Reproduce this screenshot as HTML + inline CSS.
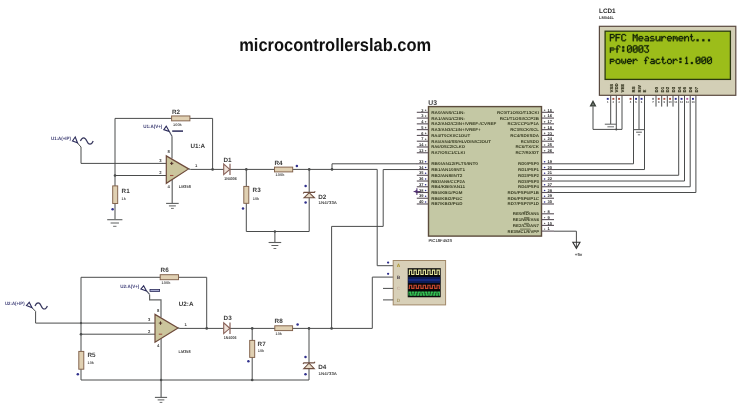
<!DOCTYPE html>
<html><head><meta charset="utf-8"><title>Power factor measurement circuit</title>
<style>
html,body{margin:0;padding:0;background:#fff;}
body{width:750px;height:404px;overflow:hidden;font-family:"Liberation Sans",sans-serif;}
svg{display:block;position:absolute;left:0;top:0;}
svg text{white-space:pre;}
</style></head><body>
<svg width="750" height="404" viewBox="0 0 750 404" shape-rendering="geometricPrecision" text-rendering="geometricPrecision">
<rect x="0" y="0" width="750" height="404" fill="#ffffff"/>
<g id="all" style="filter:blur(0.3px)">
<text id="title" x="239.2" y="50.5" font-size="18.0" font-weight="bold" fill="#111" font-family="Liberation Sans, sans-serif" textLength="192.0" lengthAdjust="spacingAndGlyphs">microcontrollerslab.com</text>
<polyline points="115.0,219 115.0,118.4 212.6,118.4 212.6,169.4" stroke="#4a4c4c" stroke-width="1.0" fill="none" stroke-linejoin="miter" />
<polyline points="77.0,142.5 81.0,147.0 81.0,163.4 166.2,163.4" stroke="#4a4c4c" stroke-width="1.0" fill="none" stroke-linejoin="miter" />
<line x1="115.0" y1="175.5" x2="166.2" y2="175.5" stroke="#4a4c4c" stroke-width="1.0" />
<circle cx="115.0" cy="175.5" r="1.3" fill="#4a4c4c"/>
<rect x="112.7" y="185.9" width="5.0" height="17.599999999999994" fill="#e0d0b2" stroke="#80604a" stroke-width="0.95" />
<line x1="107.2" y1="219.7" x2="122.39999999999999" y2="219.7" stroke="#5c5e5e" stroke-width="1.1" />
<line x1="110.62" y1="223.0" x2="118.97999999999999" y2="223.0" stroke="#5c5e5e" stroke-width="1.0" />
<line x1="113.128" y1="226.29999999999998" x2="116.472" y2="226.29999999999998" stroke="#5c5e5e" stroke-width="0.9" />
<text x="121.6" y="192.6" font-size="6.3" fill="#3a3a3a" text-anchor="start" font-weight="bold" font-family="Liberation Sans, sans-serif" >R1</text>
<text x="121.6" y="199.8" font-size="3.8" fill="#555" text-anchor="start" font-weight="bold" font-family="Liberation Sans, sans-serif" >1k</text>
<circle cx="112.6" cy="209.2" r="1.25" fill="#30308c"/>
<rect x="171.6" y="115.95" width="18.30000000000001" height="4.9" fill="#e0d0b2" stroke="#80604a" stroke-width="0.95" />
<text x="172.0" y="113.5" font-size="6.3" fill="#3a3a3a" text-anchor="start" font-weight="bold" font-family="Liberation Sans, sans-serif" >R2</text>
<text x="173.0" y="125.6" font-size="3.8" fill="#555" text-anchor="start" font-weight="bold" font-family="Liberation Sans, sans-serif" textLength="8.8" lengthAdjust="spacingAndGlyphs">100k</text>
<line x1="172.0" y1="136.2" x2="172.0" y2="158.5" stroke="#626464" stroke-width="1.2" />
<line x1="172.2" y1="178.5" x2="172.2" y2="203.4" stroke="#626464" stroke-width="1.2" />
<line x1="166.1" y1="203.4" x2="178.70000000000002" y2="203.4" stroke="#5c5e5e" stroke-width="1.1" />
<line x1="168.935" y1="205.9" x2="175.865" y2="205.9" stroke="#5c5e5e" stroke-width="1.0" />
<line x1="171.014" y1="208.4" x2="173.786" y2="208.4" stroke="#5c5e5e" stroke-width="0.9" />
<polygon points="166.3,155.9 166.3,183.3 188.6,168.9" fill="#cbc59c" stroke="#6e4b3c" stroke-width="1.2" stroke-linejoin="miter"/>
<line x1="170.0" y1="163.4" x2="173.4" y2="163.4" stroke="#503028" stroke-width="0.9" />
<line x1="171.7" y1="161.70000000000002" x2="171.7" y2="165.1" stroke="#503028" stroke-width="1.1" />
<line x1="170.0" y1="175.5" x2="173.4" y2="175.5" stroke="#a05040" stroke-width="1.1" />
<text x="159.2" y="162.0" font-size="4.2" fill="#3c3c3c" text-anchor="start" font-weight="bold" font-family="Liberation Sans, sans-serif" >3</text>
<text x="159.2" y="173.6" font-size="4.2" fill="#3c3c3c" text-anchor="start" font-weight="bold" font-family="Liberation Sans, sans-serif" >2</text>
<text x="195.0" y="167.3" font-size="4.2" fill="#3c3c3c" text-anchor="start" font-weight="bold" font-family="Liberation Sans, sans-serif" >1</text>
<text x="167.6" y="152.6" font-size="4.2" fill="#3c3c3c" text-anchor="start" font-weight="bold" font-family="Liberation Sans, sans-serif" >8</text>
<text x="167.6" y="188.0" font-size="4.2" fill="#3c3c3c" text-anchor="start" font-weight="bold" font-family="Liberation Sans, sans-serif" >4</text>
<text x="178.8" y="188.3" font-size="4.2" fill="#444" text-anchor="start" font-weight="bold" font-family="Liberation Sans, sans-serif" textLength="12.0" lengthAdjust="spacingAndGlyphs">LM358</text>
<text x="190.4" y="147.5" font-size="6.3" fill="#3a3a3a" text-anchor="start" font-weight="bold" font-family="Liberation Sans, sans-serif" >U1:A</text>
<polyline points="188.4,168.9 190.5,169.4 332.0,169.4" stroke="#4a4c4c" stroke-width="1.0" fill="none" stroke-linejoin="miter" />
<circle cx="212.6" cy="169.4" r="1.3" fill="#4a4c4c"/>
<text x="143.2" y="128.4" font-size="4.7" fill="#3a3a70" text-anchor="start" font-weight="bold" font-family="Liberation Sans, sans-serif" textLength="19.2" lengthAdjust="spacingAndGlyphs">U1:A(V+)</text>
<polygon points="166.3,126.2 163.8,129.6 169.3,131.5" fill="none" stroke="#2c2c5c" stroke-width="1.1"/>
<polyline points="169.3,131.5 172.0,136.2" stroke="#505468" stroke-width="1.1" fill="none" stroke-linejoin="miter" />
<line x1="172.2" y1="131.1" x2="183.0" y2="131.1" stroke="#2c2c5c" stroke-width="1.5" />
<text x="51.0" y="140.2" font-size="4.7" fill="#3a3a70" text-anchor="start" font-weight="bold" font-family="Liberation Sans, sans-serif" textLength="20.0" lengthAdjust="spacingAndGlyphs">U1:A(+IP)</text>
<polygon points="75.2,137.0 72.5,140.9 77.5,142.8" fill="none" stroke="#2c2c5c" stroke-width="1.1"/>
<path d="M80.4,141.0 C82.2,136.8 85.0,136.8 86.8,141.0 S91.4,145.2 93.2,141.0" fill="none" stroke="#38385e" stroke-width="1.2"/>
<polygon points="223.7,164.0 223.7,174.6 229.8,169.4" fill="#eee2d8" stroke="#886058" stroke-width="1.1"/>
<line x1="230.0" y1="163.8" x2="230.0" y2="175.0" stroke="#886058" stroke-width="1.2" />
<text x="223.4" y="161.7" font-size="6.3" fill="#3a3a3a" text-anchor="start" font-weight="bold" font-family="Liberation Sans, sans-serif" >D1</text>
<text x="224.2" y="179.8" font-size="4.0" fill="#444" text-anchor="start" font-weight="bold" font-family="Liberation Sans, sans-serif" textLength="12.6" lengthAdjust="spacingAndGlyphs">1N4006</text>
<polyline points="246.3,169.4 246.3,231.5 309.2,231.5 309.2,169.4" stroke="#4a4c4c" stroke-width="1.0" fill="none" stroke-linejoin="miter" />
<circle cx="246.3" cy="169.4" r="1.3" fill="#4a4c4c"/>
<circle cx="309.2" cy="169.4" r="1.3" fill="#4a4c4c"/>
<rect x="243.8" y="186.4" width="5.0" height="16.900000000000006" fill="#e0d0b2" stroke="#80604a" stroke-width="0.95" />
<text x="252.6" y="192.2" font-size="6.3" fill="#3a3a3a" text-anchor="start" font-weight="bold" font-family="Liberation Sans, sans-serif" >R3</text>
<text x="252.8" y="199.6" font-size="3.8" fill="#555" text-anchor="start" font-weight="bold" font-family="Liberation Sans, sans-serif" >10k</text>
<circle cx="243.0" cy="208.6" r="1.25" fill="#30308c"/>
<line x1="274.9" y1="231.5" x2="274.9" y2="242.5" stroke="#4a4c4c" stroke-width="1.0" />
<circle cx="274.9" cy="231.5" r="1.2" fill="#4a4c4c"/>
<line x1="268.59999999999997" y1="242.5" x2="281.2" y2="242.5" stroke="#5c5e5e" stroke-width="1.1" />
<line x1="271.435" y1="245.5" x2="278.36499999999995" y2="245.5" stroke="#5c5e5e" stroke-width="1.0" />
<line x1="273.51399999999995" y1="248.5" x2="276.286" y2="248.5" stroke="#5c5e5e" stroke-width="0.9" />
<rect x="274.5" y="167.1" width="18.19999999999999" height="4.8" fill="#e0d0b2" stroke="#80604a" stroke-width="0.95" />
<text x="274.4" y="165.2" font-size="6.3" fill="#3a3a3a" text-anchor="start" font-weight="bold" font-family="Liberation Sans, sans-serif" >R4</text>
<text x="275.6" y="176.4" font-size="3.8" fill="#555" text-anchor="start" font-weight="bold" font-family="Liberation Sans, sans-serif" textLength="8.8" lengthAdjust="spacingAndGlyphs">100k</text>
<circle cx="296.9" cy="166.0" r="1.25" fill="#30308c"/>
<polygon points="304.0,197.8 314.5,197.8 309.2,192.7" fill="#e8dcc8" stroke="#6e4e40" stroke-width="1.05"/>
<polyline points="303.2,193.5 304.0,192.4 314.4,192.4 315.2,191.3" stroke="#6e4e40" stroke-width="1.1" fill="none" stroke-linejoin="miter" />
<text x="318.2" y="198.7" font-size="6.3" fill="#3a3a3a" text-anchor="start" font-weight="bold" font-family="Liberation Sans, sans-serif" >D2</text>
<text x="318.6" y="204.1" font-size="4.2" fill="#444" text-anchor="start" font-weight="bold" font-family="Liberation Sans, sans-serif" textLength="18.4" lengthAdjust="spacingAndGlyphs">1N4733A</text>
<circle cx="305.6" cy="185.9" r="1.25" fill="#30308c"/>
<circle cx="305.6" cy="202.5" r="1.25" fill="#30308c"/>
<circle cx="332.0" cy="169.4" r="1.3" fill="#4a4c4c"/>
<polyline points="332.0,169.4 332.0,163.8 417.0,163.8" stroke="#4a4c4c" stroke-width="1.0" fill="none" stroke-linejoin="miter" />
<polyline points="332.0,169.4 377.2,169.4 377.2,265.7 393.5,265.7" stroke="#4a4c4c" stroke-width="1.0" fill="none" stroke-linejoin="miter" />
<polyline points="417.0,169.54 383.2,169.54 383.2,226.4 331.6,226.4 331.6,328.4" stroke="#4a4c4c" stroke-width="1.0" fill="none" stroke-linejoin="miter" />
<polyline points="81.0,380.0 81.0,277.3 206.7,277.3 206.7,328.4" stroke="#4a4c4c" stroke-width="1.0" fill="none" stroke-linejoin="miter" />
<polyline points="32.0,307.7 35.6,311.4 35.6,323.1 155.0,323.1" stroke="#4a4c4c" stroke-width="1.0" fill="none" stroke-linejoin="miter" />
<line x1="81.0" y1="334.2" x2="155.0" y2="334.2" stroke="#4a4c4c" stroke-width="1.0" />
<circle cx="81.0" cy="334.2" r="1.3" fill="#4a4c4c"/>
<circle cx="81.0" cy="323.1" r="1.1" fill="#4a4c4c"/>
<rect x="78.8" y="351.4" width="5.0" height="17.80000000000001" fill="#e0d0b2" stroke="#80604a" stroke-width="0.95" />
<text x="87.4" y="357.4" font-size="6.3" fill="#3a3a3a" text-anchor="start" font-weight="bold" font-family="Liberation Sans, sans-serif" >R5</text>
<text x="87.6" y="364.2" font-size="3.8" fill="#555" text-anchor="start" font-weight="bold" font-family="Liberation Sans, sans-serif" >10k</text>
<circle cx="77.8" cy="374.2" r="1.25" fill="#30308c"/>
<line x1="81.0" y1="380.0" x2="309.0" y2="380.0" stroke="#4a4c4c" stroke-width="1.0" />
<rect x="160.2" y="274.7" width="18.30000000000001" height="5.0" fill="#e0d0b2" stroke="#80604a" stroke-width="0.95" />
<text x="160.6" y="272.4" font-size="6.3" fill="#3a3a3a" text-anchor="start" font-weight="bold" font-family="Liberation Sans, sans-serif" >R6</text>
<text x="161.6" y="284.2" font-size="3.8" fill="#555" text-anchor="start" font-weight="bold" font-family="Liberation Sans, sans-serif" textLength="8.8" lengthAdjust="spacingAndGlyphs">100k</text>
<polyline points="149.6,294.4 149.6,299.8 161.0,299.8 161.0,317.6" stroke="#626464" stroke-width="1.2" fill="none" stroke-linejoin="miter" />
<line x1="161.1" y1="338.6" x2="161.1" y2="397.4" stroke="#626464" stroke-width="1.2" />
<circle cx="161.1" cy="380.0" r="1.2" fill="#4a4c4c"/>
<line x1="154.9" y1="397.4" x2="167.1" y2="397.4" stroke="#5c5e5e" stroke-width="1.1" />
<line x1="157.645" y1="399.9" x2="164.355" y2="399.9" stroke="#5c5e5e" stroke-width="1.0" />
<line x1="159.658" y1="402.4" x2="162.342" y2="402.4" stroke="#5c5e5e" stroke-width="0.9" />
<polygon points="155.0,314.4 155.0,342.2 178.0,327.9" fill="#cbc59c" stroke="#6e4b3c" stroke-width="1.2"/>
<line x1="158.8" y1="323.1" x2="162.2" y2="323.1" stroke="#503028" stroke-width="0.9" />
<line x1="160.5" y1="321.40000000000003" x2="160.5" y2="324.8" stroke="#503028" stroke-width="1.1" />
<line x1="158.8" y1="334.2" x2="162.2" y2="334.2" stroke="#a05040" stroke-width="1.1" />
<text x="148.0" y="321.4" font-size="4.2" fill="#3c3c3c" text-anchor="start" font-weight="bold" font-family="Liberation Sans, sans-serif" >3</text>
<text x="148.0" y="332.8" font-size="4.2" fill="#3c3c3c" text-anchor="start" font-weight="bold" font-family="Liberation Sans, sans-serif" >2</text>
<text x="184.6" y="326.2" font-size="4.2" fill="#3c3c3c" text-anchor="start" font-weight="bold" font-family="Liberation Sans, sans-serif" >1</text>
<text x="157.0" y="311.6" font-size="4.2" fill="#3c3c3c" text-anchor="start" font-weight="bold" font-family="Liberation Sans, sans-serif" >8</text>
<text x="157.0" y="347.4" font-size="4.2" fill="#3c3c3c" text-anchor="start" font-weight="bold" font-family="Liberation Sans, sans-serif" >4</text>
<text x="178.6" y="353.0" font-size="4.2" fill="#444" text-anchor="start" font-weight="bold" font-family="Liberation Sans, sans-serif" textLength="12.0" lengthAdjust="spacingAndGlyphs">LM358</text>
<text x="178.8" y="306.2" font-size="6.3" fill="#3a3a3a" text-anchor="start" font-weight="bold" font-family="Liberation Sans, sans-serif" >U2:A</text>
<text x="120.2" y="287.8" font-size="4.7" fill="#44447c" text-anchor="start" font-weight="bold" font-family="Liberation Sans, sans-serif" textLength="19.2" lengthAdjust="spacingAndGlyphs">U2:A(V+)</text>
<polygon points="143.6,285.8 140.9,289.0 146.5,290.9" fill="none" stroke="#2c2c5c" stroke-width="1.1"/>
<polyline points="146.5,290.9 149.6,294.4" stroke="#505468" stroke-width="1.1" fill="none" stroke-linejoin="miter" />
<rect x="150.0" y="289.5" width="9.6" height="2.0" fill="#a8acd0" stroke="#2c2c5c" stroke-width="0.8" />
<text x="5.0" y="304.8" font-size="4.7" fill="#44447c" text-anchor="start" font-weight="bold" font-family="Liberation Sans, sans-serif" textLength="19.6" lengthAdjust="spacingAndGlyphs">U2:A(+IP)</text>
<polygon points="29.2,302.3 26.5,305.5 32.0,307.7" fill="none" stroke="#2c2c5c" stroke-width="1.1"/>
<path d="M35.0,305.9 C36.8,301.8 39.5,301.8 41.2,305.9 S45.6,310.0 47.4,305.9" fill="none" stroke="#38385e" stroke-width="1.2"/>
<polyline points="177.8,327.9 180.0,328.4 372.3,328.4 372.3,277.1 393.5,277.1" stroke="#4a4c4c" stroke-width="1.0" fill="none" stroke-linejoin="miter" />
<circle cx="206.7" cy="328.4" r="1.3" fill="#4a4c4c"/>
<circle cx="331.6" cy="328.4" r="1.3" fill="#4a4c4c"/>
<polygon points="223.7,322.8 223.7,333.6 229.8,328.3" fill="#eee2d8" stroke="#886058" stroke-width="1.1"/>
<line x1="230.0" y1="322.4" x2="230.0" y2="334.0" stroke="#886058" stroke-width="1.2" />
<text x="223.6" y="320.2" font-size="6.3" fill="#3a3a3a" text-anchor="start" font-weight="bold" font-family="Liberation Sans, sans-serif" >D3</text>
<text x="223.8" y="339.0" font-size="4.0" fill="#444" text-anchor="start" font-weight="bold" font-family="Liberation Sans, sans-serif" textLength="12.6" lengthAdjust="spacingAndGlyphs">1N4006</text>
<line x1="252.2" y1="328.4" x2="252.2" y2="380.0" stroke="#4a4c4c" stroke-width="1.0" />
<circle cx="252.2" cy="328.4" r="1.3" fill="#4a4c4c"/>
<circle cx="252.2" cy="380.0" r="1.3" fill="#4a4c4c"/>
<rect x="249.7" y="340.4" width="5.0" height="17.0" fill="#e0d0b2" stroke="#80604a" stroke-width="0.95" />
<text x="257.6" y="346.2" font-size="6.3" fill="#3a3a3a" text-anchor="start" font-weight="bold" font-family="Liberation Sans, sans-serif" >R7</text>
<text x="257.8" y="352.2" font-size="3.8" fill="#555" text-anchor="start" font-weight="bold" font-family="Liberation Sans, sans-serif" >10k</text>
<circle cx="248.4" cy="361.3" r="1.25" fill="#30308c"/>
<rect x="274.8" y="325.8" width="17.80000000000001" height="4.8" fill="#e0d0b2" stroke="#80604a" stroke-width="0.95" />
<text x="274.6" y="323.2" font-size="6.3" fill="#3a3a3a" text-anchor="start" font-weight="bold" font-family="Liberation Sans, sans-serif" >R8</text>
<text x="275.6" y="335.4" font-size="3.8" fill="#555" text-anchor="start" font-weight="bold" font-family="Liberation Sans, sans-serif" >10k</text>
<circle cx="297.6" cy="324.6" r="1.25" fill="#30308c"/>
<line x1="309.0" y1="328.4" x2="309.0" y2="380.0" stroke="#4a4c4c" stroke-width="1.0" />
<circle cx="309.0" cy="328.4" r="1.3" fill="#4a4c4c"/>
<polygon points="303.7,368.6 314.3,368.6 309.0,363.2" fill="#e8dcc8" stroke="#6e4e40" stroke-width="1.05"/>
<polyline points="303.0,364.0 303.8,362.9 314.2,362.9 315.0,361.8" stroke="#6e4e40" stroke-width="1.1" fill="none" stroke-linejoin="miter" />
<text x="318.2" y="369.4" font-size="6.3" fill="#3a3a3a" text-anchor="start" font-weight="bold" font-family="Liberation Sans, sans-serif" >D4</text>
<text x="318.6" y="375.0" font-size="4.2" fill="#444" text-anchor="start" font-weight="bold" font-family="Liberation Sans, sans-serif" textLength="18.4" lengthAdjust="spacingAndGlyphs">1N4733A</text>
<circle cx="305.5" cy="356.9" r="1.25" fill="#30308c"/>
<circle cx="305.5" cy="374.2" r="1.25" fill="#30308c"/>
<rect x="428.5" y="106.6" width="113.0" height="129.5" fill="#c4c8a4" stroke="#5c4c3c" stroke-width="1.4" />
<text x="428.3" y="104.9" font-size="6.8" fill="#3a3a3a" text-anchor="start" font-weight="bold" font-family="Liberation Sans, sans-serif" >U3</text>
<text x="428.4" y="242.3" font-size="4.2" fill="#444" text-anchor="start" font-weight="bold" font-family="Liberation Sans, sans-serif" textLength="23.6" lengthAdjust="spacingAndGlyphs">PIC18F4520</text>
<line x1="416.8" y1="112.3" x2="428.5" y2="112.3" stroke="#5a5058" stroke-width="1.1" />
<text x="431.2" y="113.8" font-size="4.1" fill="#363a20" text-anchor="start" font-weight="bold" font-family="Liberation Sans, sans-serif" textLength="33.8" lengthAdjust="spacingAndGlyphs">RA0/AN0/C1IN-</text>
<text x="423.4" y="111.5" font-size="4.0" fill="#2a2a2a" text-anchor="end" font-weight="bold" font-family="Liberation Sans, sans-serif" >2</text>
<circle cx="425.6" cy="110.3" r="0.8" fill="#666"/>
<line x1="541.5" y1="112.3" x2="554.0" y2="112.3" stroke="#5a5058" stroke-width="1.1" />
<text x="539.0" y="113.8" font-size="4.1" fill="#363a20" text-anchor="end" font-weight="bold" font-family="Liberation Sans, sans-serif" textLength="41.9" lengthAdjust="spacingAndGlyphs">RC0/T1OSO/T13CKI</text>
<text x="547.6" y="111.5" font-size="4.0" fill="#2a2a2a" text-anchor="start" font-weight="bold" font-family="Liberation Sans, sans-serif" >15</text>
<circle cx="544.6" cy="110.3" r="0.8" fill="#666"/>
<line x1="416.8" y1="118.08" x2="428.5" y2="118.08" stroke="#5a5058" stroke-width="1.1" />
<text x="431.2" y="119.58" font-size="4.1" fill="#363a20" text-anchor="start" font-weight="bold" font-family="Liberation Sans, sans-serif" textLength="33.8" lengthAdjust="spacingAndGlyphs">RA1/AN1/C2IN-</text>
<text x="423.4" y="117.28" font-size="4.0" fill="#2a2a2a" text-anchor="end" font-weight="bold" font-family="Liberation Sans, sans-serif" >3</text>
<circle cx="425.6" cy="116.08" r="0.8" fill="#666"/>
<line x1="541.5" y1="118.08" x2="554.0" y2="118.08" stroke="#5a5058" stroke-width="1.1" />
<text x="539.0" y="119.58" font-size="4.1" fill="#363a20" text-anchor="end" font-weight="bold" font-family="Liberation Sans, sans-serif" textLength="39.3" lengthAdjust="spacingAndGlyphs">RC1/T1OSI/CCP2B</text>
<text x="547.6" y="117.28" font-size="4.0" fill="#2a2a2a" text-anchor="start" font-weight="bold" font-family="Liberation Sans, sans-serif" >16</text>
<circle cx="544.6" cy="116.08" r="0.8" fill="#666"/>
<line x1="416.8" y1="123.86" x2="428.5" y2="123.86" stroke="#5a5058" stroke-width="1.1" />
<text x="431.2" y="125.36" font-size="4.1" fill="#363a20" text-anchor="start" font-weight="bold" font-family="Liberation Sans, sans-serif" textLength="65.0" lengthAdjust="spacingAndGlyphs">RA2/AN2/C2IN+/VREF-/CVREF</text>
<text x="423.4" y="123.06" font-size="4.0" fill="#2a2a2a" text-anchor="end" font-weight="bold" font-family="Liberation Sans, sans-serif" >4</text>
<circle cx="425.6" cy="121.86" r="0.8" fill="#666"/>
<line x1="541.5" y1="123.86" x2="554.0" y2="123.86" stroke="#5a5058" stroke-width="1.1" />
<text x="539.0" y="125.36" font-size="4.1" fill="#363a20" text-anchor="end" font-weight="bold" font-family="Liberation Sans, sans-serif" textLength="31.4" lengthAdjust="spacingAndGlyphs">RC2/CCP1/P1A</text>
<text x="547.6" y="123.06" font-size="4.0" fill="#2a2a2a" text-anchor="start" font-weight="bold" font-family="Liberation Sans, sans-serif" >17</text>
<circle cx="544.6" cy="121.86" r="0.8" fill="#666"/>
<line x1="416.8" y1="129.64" x2="428.5" y2="129.64" stroke="#5a5058" stroke-width="1.1" />
<text x="431.2" y="131.14" font-size="4.1" fill="#363a20" text-anchor="start" font-weight="bold" font-family="Liberation Sans, sans-serif" textLength="49.4" lengthAdjust="spacingAndGlyphs">RA3/AN3/C1IN+/VREF+</text>
<text x="423.4" y="128.83999999999997" font-size="4.0" fill="#2a2a2a" text-anchor="end" font-weight="bold" font-family="Liberation Sans, sans-serif" >5</text>
<circle cx="425.6" cy="127.63999999999999" r="0.8" fill="#666"/>
<line x1="541.5" y1="129.64" x2="554.0" y2="129.64" stroke="#5a5058" stroke-width="1.1" />
<text x="539.0" y="131.14" font-size="4.1" fill="#363a20" text-anchor="end" font-weight="bold" font-family="Liberation Sans, sans-serif" textLength="28.8" lengthAdjust="spacingAndGlyphs">RC3/SCK/SCL</text>
<text x="547.6" y="128.83999999999997" font-size="4.0" fill="#2a2a2a" text-anchor="start" font-weight="bold" font-family="Liberation Sans, sans-serif" >18</text>
<circle cx="544.6" cy="127.63999999999999" r="0.8" fill="#666"/>
<line x1="416.8" y1="135.42" x2="428.5" y2="135.42" stroke="#5a5058" stroke-width="1.1" />
<text x="431.2" y="136.92" font-size="4.1" fill="#363a20" text-anchor="start" font-weight="bold" font-family="Liberation Sans, sans-serif" textLength="39.0" lengthAdjust="spacingAndGlyphs">RA4/T0CKI/C1OUT</text>
<text x="423.4" y="134.61999999999998" font-size="4.0" fill="#2a2a2a" text-anchor="end" font-weight="bold" font-family="Liberation Sans, sans-serif" >6</text>
<circle cx="425.6" cy="133.42" r="0.8" fill="#666"/>
<line x1="541.5" y1="135.42" x2="554.0" y2="135.42" stroke="#5a5058" stroke-width="1.1" />
<text x="539.0" y="136.92" font-size="4.1" fill="#363a20" text-anchor="end" font-weight="bold" font-family="Liberation Sans, sans-serif" textLength="28.8" lengthAdjust="spacingAndGlyphs">RC4/SDI/SDA</text>
<text x="547.6" y="134.61999999999998" font-size="4.0" fill="#2a2a2a" text-anchor="start" font-weight="bold" font-family="Liberation Sans, sans-serif" >23</text>
<circle cx="544.6" cy="133.42" r="0.8" fill="#666"/>
<line x1="416.8" y1="141.2" x2="428.5" y2="141.2" stroke="#5a5058" stroke-width="1.1" />
<text x="431.2" y="142.7" font-size="4.1" fill="#363a20" text-anchor="start" font-weight="bold" font-family="Liberation Sans, sans-serif" textLength="59.8" lengthAdjust="spacingAndGlyphs">RA5/AN4/SS/HLVDIN/C2OUT</text>
<text x="423.4" y="140.39999999999998" font-size="4.0" fill="#2a2a2a" text-anchor="end" font-weight="bold" font-family="Liberation Sans, sans-serif" >7</text>
<circle cx="425.6" cy="139.2" r="0.8" fill="#666"/>
<line x1="541.5" y1="141.2" x2="554.0" y2="141.2" stroke="#5a5058" stroke-width="1.1" />
<text x="539.0" y="142.7" font-size="4.1" fill="#363a20" text-anchor="end" font-weight="bold" font-family="Liberation Sans, sans-serif" textLength="18.3" lengthAdjust="spacingAndGlyphs">RC5/SDO</text>
<text x="547.6" y="140.39999999999998" font-size="4.0" fill="#2a2a2a" text-anchor="start" font-weight="bold" font-family="Liberation Sans, sans-serif" >24</text>
<circle cx="544.6" cy="139.2" r="0.8" fill="#666"/>
<line x1="416.8" y1="146.98" x2="428.5" y2="146.98" stroke="#5a5058" stroke-width="1.1" />
<text x="431.2" y="148.48" font-size="4.1" fill="#363a20" text-anchor="start" font-weight="bold" font-family="Liberation Sans, sans-serif" textLength="33.8" lengthAdjust="spacingAndGlyphs">RA6/OSC2/CLKO</text>
<text x="423.4" y="146.17999999999998" font-size="4.0" fill="#2a2a2a" text-anchor="end" font-weight="bold" font-family="Liberation Sans, sans-serif" >14</text>
<circle cx="425.6" cy="144.98" r="0.8" fill="#666"/>
<line x1="541.5" y1="146.98" x2="554.0" y2="146.98" stroke="#5a5058" stroke-width="1.1" />
<text x="539.0" y="148.48" font-size="4.1" fill="#363a20" text-anchor="end" font-weight="bold" font-family="Liberation Sans, sans-serif" textLength="23.6" lengthAdjust="spacingAndGlyphs">RC6/TX/CK</text>
<text x="547.6" y="146.17999999999998" font-size="4.0" fill="#2a2a2a" text-anchor="start" font-weight="bold" font-family="Liberation Sans, sans-serif" >25</text>
<circle cx="544.6" cy="144.98" r="0.8" fill="#666"/>
<line x1="416.8" y1="152.76" x2="428.5" y2="152.76" stroke="#5a5058" stroke-width="1.1" />
<text x="431.2" y="154.26" font-size="4.1" fill="#363a20" text-anchor="start" font-weight="bold" font-family="Liberation Sans, sans-serif" textLength="33.8" lengthAdjust="spacingAndGlyphs">RA7/OSC1/CLKI</text>
<text x="423.4" y="151.95999999999998" font-size="4.0" fill="#2a2a2a" text-anchor="end" font-weight="bold" font-family="Liberation Sans, sans-serif" >13</text>
<circle cx="425.6" cy="150.76" r="0.8" fill="#666"/>
<line x1="541.5" y1="152.76" x2="554.0" y2="152.76" stroke="#5a5058" stroke-width="1.1" />
<text x="539.0" y="154.26" font-size="4.1" fill="#363a20" text-anchor="end" font-weight="bold" font-family="Liberation Sans, sans-serif" textLength="23.6" lengthAdjust="spacingAndGlyphs">RC7/RX/DT</text>
<text x="547.6" y="151.95999999999998" font-size="4.0" fill="#2a2a2a" text-anchor="start" font-weight="bold" font-family="Liberation Sans, sans-serif" >26</text>
<circle cx="544.6" cy="150.76" r="0.8" fill="#666"/>
<line x1="416.8" y1="163.8" x2="428.5" y2="163.8" stroke="#5a5058" stroke-width="1.1" />
<text x="431.2" y="165.3" font-size="4.1" fill="#363a20" text-anchor="start" font-weight="bold" font-family="Liberation Sans, sans-serif" textLength="46.8" lengthAdjust="spacingAndGlyphs">RB0/AN12/FLT0/INT0</text>
<text x="423.4" y="163.0" font-size="4.0" fill="#2a2a2a" text-anchor="end" font-weight="bold" font-family="Liberation Sans, sans-serif" >33</text>
<circle cx="425.6" cy="161.8" r="0.8" fill="#30308c"/>
<line x1="541.5" y1="163.8" x2="554.0" y2="163.8" stroke="#5a5058" stroke-width="1.1" />
<text x="539.0" y="165.3" font-size="4.1" fill="#363a20" text-anchor="end" font-weight="bold" font-family="Liberation Sans, sans-serif" textLength="21.0" lengthAdjust="spacingAndGlyphs">RD0/PSP0</text>
<text x="547.6" y="163.0" font-size="4.0" fill="#2a2a2a" text-anchor="start" font-weight="bold" font-family="Liberation Sans, sans-serif" >19</text>
<circle cx="544.6" cy="161.8" r="0.8" fill="#30308c"/>
<line x1="416.8" y1="169.54000000000002" x2="428.5" y2="169.54000000000002" stroke="#5a5058" stroke-width="1.1" />
<text x="431.2" y="171.04000000000002" font-size="4.1" fill="#363a20" text-anchor="start" font-weight="bold" font-family="Liberation Sans, sans-serif" textLength="33.8" lengthAdjust="spacingAndGlyphs">RB1/AN10/INT1</text>
<text x="423.4" y="168.74" font-size="4.0" fill="#2a2a2a" text-anchor="end" font-weight="bold" font-family="Liberation Sans, sans-serif" >34</text>
<circle cx="425.6" cy="167.54000000000002" r="0.8" fill="#30308c"/>
<line x1="541.5" y1="169.54000000000002" x2="554.0" y2="169.54000000000002" stroke="#5a5058" stroke-width="1.1" />
<text x="539.0" y="171.04000000000002" font-size="4.1" fill="#363a20" text-anchor="end" font-weight="bold" font-family="Liberation Sans, sans-serif" textLength="21.0" lengthAdjust="spacingAndGlyphs">RD1/PSP1</text>
<text x="547.6" y="168.74" font-size="4.0" fill="#2a2a2a" text-anchor="start" font-weight="bold" font-family="Liberation Sans, sans-serif" >20</text>
<circle cx="544.6" cy="167.54000000000002" r="0.8" fill="#30308c"/>
<line x1="416.8" y1="175.28" x2="428.5" y2="175.28" stroke="#5a5058" stroke-width="1.1" />
<text x="431.2" y="176.78" font-size="4.1" fill="#363a20" text-anchor="start" font-weight="bold" font-family="Liberation Sans, sans-serif" textLength="31.2" lengthAdjust="spacingAndGlyphs">RB2/AN8/INT2</text>
<text x="423.4" y="174.48" font-size="4.0" fill="#2a2a2a" text-anchor="end" font-weight="bold" font-family="Liberation Sans, sans-serif" >35</text>
<circle cx="425.6" cy="173.28" r="0.8" fill="#30308c"/>
<line x1="541.5" y1="175.28" x2="554.0" y2="175.28" stroke="#5a5058" stroke-width="1.1" />
<text x="539.0" y="176.78" font-size="4.1" fill="#363a20" text-anchor="end" font-weight="bold" font-family="Liberation Sans, sans-serif" textLength="21.0" lengthAdjust="spacingAndGlyphs">RD2/PSP2</text>
<text x="547.6" y="174.48" font-size="4.0" fill="#2a2a2a" text-anchor="start" font-weight="bold" font-family="Liberation Sans, sans-serif" >21</text>
<circle cx="544.6" cy="173.28" r="0.8" fill="#30308c"/>
<line x1="416.8" y1="181.02" x2="428.5" y2="181.02" stroke="#5a5058" stroke-width="1.1" />
<text x="431.2" y="182.52" font-size="4.1" fill="#363a20" text-anchor="start" font-weight="bold" font-family="Liberation Sans, sans-serif" textLength="33.8" lengthAdjust="spacingAndGlyphs">RB3/AN9/CCP2A</text>
<text x="423.4" y="180.22" font-size="4.0" fill="#2a2a2a" text-anchor="end" font-weight="bold" font-family="Liberation Sans, sans-serif" >36</text>
<circle cx="425.6" cy="179.02" r="0.8" fill="#30308c"/>
<line x1="541.5" y1="181.02" x2="554.0" y2="181.02" stroke="#5a5058" stroke-width="1.1" />
<text x="539.0" y="182.52" font-size="4.1" fill="#363a20" text-anchor="end" font-weight="bold" font-family="Liberation Sans, sans-serif" textLength="21.0" lengthAdjust="spacingAndGlyphs">RD3/PSP3</text>
<text x="547.6" y="180.22" font-size="4.0" fill="#2a2a2a" text-anchor="start" font-weight="bold" font-family="Liberation Sans, sans-serif" >22</text>
<circle cx="544.6" cy="179.02" r="0.8" fill="#30308c"/>
<line x1="416.8" y1="186.76000000000002" x2="428.5" y2="186.76000000000002" stroke="#5a5058" stroke-width="1.1" />
<text x="431.2" y="188.26000000000002" font-size="4.1" fill="#363a20" text-anchor="start" font-weight="bold" font-family="Liberation Sans, sans-serif" textLength="33.8" lengthAdjust="spacingAndGlyphs">RB4/KBI0/AN11</text>
<text x="423.4" y="185.96" font-size="4.0" fill="#2a2a2a" text-anchor="end" font-weight="bold" font-family="Liberation Sans, sans-serif" >37</text>
<circle cx="425.6" cy="184.76000000000002" r="0.8" fill="#30308c"/>
<line x1="541.5" y1="186.76000000000002" x2="554.0" y2="186.76000000000002" stroke="#5a5058" stroke-width="1.1" />
<text x="539.0" y="188.26000000000002" font-size="4.1" fill="#363a20" text-anchor="end" font-weight="bold" font-family="Liberation Sans, sans-serif" textLength="21.0" lengthAdjust="spacingAndGlyphs">RD4/PSP4</text>
<text x="547.6" y="185.96" font-size="4.0" fill="#2a2a2a" text-anchor="start" font-weight="bold" font-family="Liberation Sans, sans-serif" >27</text>
<circle cx="544.6" cy="184.76000000000002" r="0.8" fill="#30308c"/>
<line x1="416.8" y1="192.5" x2="428.5" y2="192.5" stroke="#5a5058" stroke-width="1.1" />
<text x="431.2" y="194.0" font-size="4.1" fill="#363a20" text-anchor="start" font-weight="bold" font-family="Liberation Sans, sans-serif" textLength="31.2" lengthAdjust="spacingAndGlyphs">RB5/KBI1/PGM</text>
<text x="423.4" y="191.7" font-size="4.0" fill="#2a2a2a" text-anchor="end" font-weight="bold" font-family="Liberation Sans, sans-serif" >38</text>
<circle cx="425.6" cy="190.5" r="0.8" fill="#30308c"/>
<line x1="541.5" y1="192.5" x2="554.0" y2="192.5" stroke="#5a5058" stroke-width="1.1" />
<text x="539.0" y="194.0" font-size="4.1" fill="#363a20" text-anchor="end" font-weight="bold" font-family="Liberation Sans, sans-serif" textLength="31.4" lengthAdjust="spacingAndGlyphs">RD5/PSP5/P1B</text>
<text x="547.6" y="191.7" font-size="4.0" fill="#2a2a2a" text-anchor="start" font-weight="bold" font-family="Liberation Sans, sans-serif" >28</text>
<circle cx="544.6" cy="190.5" r="0.8" fill="#30308c"/>
<line x1="416.8" y1="198.24" x2="428.5" y2="198.24" stroke="#5a5058" stroke-width="1.1" />
<text x="431.2" y="199.74" font-size="4.1" fill="#363a20" text-anchor="start" font-weight="bold" font-family="Liberation Sans, sans-serif" textLength="31.2" lengthAdjust="spacingAndGlyphs">RB6/KBI2/PGC</text>
<text x="423.4" y="197.44" font-size="4.0" fill="#2a2a2a" text-anchor="end" font-weight="bold" font-family="Liberation Sans, sans-serif" >39</text>
<circle cx="425.6" cy="196.24" r="0.8" fill="#30308c"/>
<line x1="541.5" y1="198.24" x2="554.0" y2="198.24" stroke="#5a5058" stroke-width="1.1" />
<text x="539.0" y="199.74" font-size="4.1" fill="#363a20" text-anchor="end" font-weight="bold" font-family="Liberation Sans, sans-serif" textLength="31.4" lengthAdjust="spacingAndGlyphs">RD6/PSP6/P1C</text>
<text x="547.6" y="197.44" font-size="4.0" fill="#2a2a2a" text-anchor="start" font-weight="bold" font-family="Liberation Sans, sans-serif" >29</text>
<circle cx="544.6" cy="196.24" r="0.8" fill="#30308c"/>
<line x1="416.8" y1="203.98000000000002" x2="428.5" y2="203.98000000000002" stroke="#5a5058" stroke-width="1.1" />
<text x="431.2" y="205.48000000000002" font-size="4.1" fill="#363a20" text-anchor="start" font-weight="bold" font-family="Liberation Sans, sans-serif" textLength="31.2" lengthAdjust="spacingAndGlyphs">RB7/KBI3/PGD</text>
<text x="423.4" y="203.18" font-size="4.0" fill="#2a2a2a" text-anchor="end" font-weight="bold" font-family="Liberation Sans, sans-serif" >40</text>
<circle cx="425.6" cy="201.98000000000002" r="0.8" fill="#30308c"/>
<line x1="541.5" y1="203.98000000000002" x2="554.0" y2="203.98000000000002" stroke="#5a5058" stroke-width="1.1" />
<text x="539.0" y="205.48000000000002" font-size="4.1" fill="#363a20" text-anchor="end" font-weight="bold" font-family="Liberation Sans, sans-serif" textLength="31.4" lengthAdjust="spacingAndGlyphs">RD7/PSP7/P1D</text>
<text x="547.6" y="203.18" font-size="4.0" fill="#2a2a2a" text-anchor="start" font-weight="bold" font-family="Liberation Sans, sans-serif" >30</text>
<circle cx="544.6" cy="201.98000000000002" r="0.8" fill="#30308c"/>
<line x1="541.5" y1="213.8" x2="554.0" y2="213.8" stroke="#5a5058" stroke-width="1.1" />
<text x="539.0" y="215.3" font-size="4.1" fill="#363a20" text-anchor="end" font-weight="bold" font-family="Liberation Sans, sans-serif" textLength="26.2" lengthAdjust="spacingAndGlyphs">RE0/RD/AN5</text>
<text x="547.6" y="213.0" font-size="4.0" fill="#2a2a2a" text-anchor="start" font-weight="bold" font-family="Liberation Sans, sans-serif" >8</text>
<circle cx="544.6" cy="211.8" r="0.7" fill="#666"/>
<line x1="541.5" y1="219.6" x2="554.0" y2="219.6" stroke="#5a5058" stroke-width="1.1" />
<text x="539.0" y="221.1" font-size="4.1" fill="#363a20" text-anchor="end" font-weight="bold" font-family="Liberation Sans, sans-serif" textLength="26.2" lengthAdjust="spacingAndGlyphs">RE1/WR/AN6</text>
<text x="547.6" y="218.79999999999998" font-size="4.0" fill="#2a2a2a" text-anchor="start" font-weight="bold" font-family="Liberation Sans, sans-serif" >9</text>
<circle cx="544.6" cy="217.6" r="0.7" fill="#666"/>
<line x1="541.5" y1="225.4" x2="554.0" y2="225.4" stroke="#5a5058" stroke-width="1.1" />
<text x="539.0" y="226.9" font-size="4.1" fill="#363a20" text-anchor="end" font-weight="bold" font-family="Liberation Sans, sans-serif" textLength="26.2" lengthAdjust="spacingAndGlyphs">RE2/CS/AN7</text>
<text x="547.6" y="224.6" font-size="4.0" fill="#2a2a2a" text-anchor="start" font-weight="bold" font-family="Liberation Sans, sans-serif" >10</text>
<circle cx="544.6" cy="223.4" r="0.7" fill="#666"/>
<line x1="541.5" y1="231.1" x2="554.0" y2="231.1" stroke="#5a5058" stroke-width="1.1" />
<text x="539.0" y="232.6" font-size="4.1" fill="#363a20" text-anchor="end" font-weight="bold" font-family="Liberation Sans, sans-serif" textLength="31.4" lengthAdjust="spacingAndGlyphs">RE3/MCLR/VPP</text>
<text x="547.6" y="230.29999999999998" font-size="4.0" fill="#2a2a2a" text-anchor="start" font-weight="bold" font-family="Liberation Sans, sans-serif" >1</text>
<circle cx="544.6" cy="229.1" r="0.7" fill="#666"/>
<line x1="524.0" y1="211.8" x2="529.0" y2="211.8" stroke="#363a20" stroke-width="0.6" />
<line x1="524.0" y1="217.6" x2="529.4" y2="217.6" stroke="#363a20" stroke-width="0.6" />
<line x1="524.0" y1="223.4" x2="529.0" y2="223.4" stroke="#363a20" stroke-width="0.6" />
<line x1="520.0" y1="229.1" x2="530.6" y2="229.1" stroke="#363a20" stroke-width="0.6" />
<line x1="413.6" y1="191.6" x2="420.4" y2="191.6" stroke="#503070" stroke-width="1.0" />
<line x1="416.9" y1="188.2" x2="416.9" y2="195.0" stroke="#503070" stroke-width="1.0" />
<polygon points="414.0,191.6 417.2,189.6 417.2,193.6" fill="#503070"/>
<polyline points="554.0,231.2 576.4,231.2 576.4,247.0" stroke="#4a4c4c" stroke-width="1.0" fill="none" stroke-linejoin="miter" />
<polygon points="572.8,242.2 580.0,242.2 576.4,248.4" fill="none" stroke="#333" stroke-width="1.1"/>
<text x="578.6" y="256.4" font-size="4.4" fill="#444" text-anchor="middle" font-weight="bold" font-family="Liberation Sans, sans-serif" >+5v</text>
<polyline points="554.0,163.8 633.5,163.8 633.5,95.3" stroke="#4a4c4c" stroke-width="1.0" fill="none" stroke-linejoin="miter" />
<polyline points="554.0,169.54000000000002 644.5,169.54000000000002 644.5,95.3" stroke="#4a4c4c" stroke-width="1.0" fill="none" stroke-linejoin="miter" />
<polyline points="554.0,175.28 678.7,175.28 678.7,95.3" stroke="#4a4c4c" stroke-width="1.0" fill="none" stroke-linejoin="miter" />
<polyline points="554.0,181.02 684.5,181.02 684.5,95.3" stroke="#4a4c4c" stroke-width="1.0" fill="none" stroke-linejoin="miter" />
<polyline points="554.0,186.76000000000002 690.2,186.76000000000002 690.2,95.3" stroke="#4a4c4c" stroke-width="1.0" fill="none" stroke-linejoin="miter" />
<polyline points="554.0,192.5 695.9,192.5 695.9,95.3" stroke="#4a4c4c" stroke-width="1.0" fill="none" stroke-linejoin="miter" />
<line x1="656.0" y1="95.3" x2="656.0" y2="106.6" stroke="#4a4c4c" stroke-width="1.0" />
<line x1="661.7" y1="95.3" x2="661.7" y2="106.6" stroke="#4a4c4c" stroke-width="1.0" />
<line x1="667.3" y1="95.3" x2="667.3" y2="106.6" stroke="#4a4c4c" stroke-width="1.0" />
<line x1="673.0" y1="95.3" x2="673.0" y2="106.6" stroke="#4a4c4c" stroke-width="1.0" />
<line x1="639.0" y1="95.3" x2="639.0" y2="129.4" stroke="#4a4c4c" stroke-width="1.0" />
<line x1="633.8" y1="129.6" x2="644.2" y2="129.6" stroke="#5c5e5e" stroke-width="1.1" />
<line x1="636.14" y1="132.2" x2="641.86" y2="132.2" stroke="#5c5e5e" stroke-width="1.0" />
<line x1="637.856" y1="134.79999999999998" x2="640.144" y2="134.79999999999998" stroke="#5c5e5e" stroke-width="0.9" />
<polyline points="593.0,106.4 593.0,129.4 622.0,129.4 622.0,95.3" stroke="#4a4c4c" stroke-width="1.0" fill="none" stroke-linejoin="miter" />
<line x1="616.3" y1="95.3" x2="616.3" y2="129.4" stroke="#4a4c4c" stroke-width="1.0" />
<circle cx="616.3" cy="129.4" r="1.0" fill="#4a4c4c"/>
<polygon points="593.0,101.4 590.6,105.9 595.4,105.9" fill="#7a847a" stroke="#3a403a" stroke-width="1.3"/>
<line x1="610.7" y1="95.3" x2="610.7" y2="124.0" stroke="#4a4c4c" stroke-width="1.0" />
<line x1="604.8" y1="124.2" x2="616.2" y2="124.2" stroke="#5c5e5e" stroke-width="1.0" />
<line x1="607.4" y1="126.8" x2="614.0" y2="126.8" stroke="#5c5e5e" stroke-width="0.9" />
<rect x="599.4" y="26.3" width="136.4" height="69.0" fill="#d3cfb6" stroke="#5a4a40" stroke-width="1.2" />
<rect x="605.1" y="31.2" width="125.3" height="48.2" fill="#9cbd1a" stroke="#2c3a10" stroke-width="1.3" />
<text x="599.0" y="13.1" font-size="6.4" fill="#2a2a2a" text-anchor="start" font-weight="bold" font-family="Liberation Sans, sans-serif" textLength="16.6" lengthAdjust="spacingAndGlyphs">LCD1</text>
<text x="599.0" y="19.0" font-size="3.9" fill="#333" text-anchor="start" font-weight="bold" font-family="Liberation Sans, sans-serif" textLength="15.0" lengthAdjust="spacingAndGlyphs">LM044L</text>
<path d="M609.90,33.90h3.81v1.06h-3.81zM609.90,34.96h0.95v1.06h-0.95zM613.71,34.96h0.95v1.06h-0.95zM609.90,36.02h0.95v1.06h-0.95zM613.71,36.02h0.95v1.06h-0.95zM609.90,37.08h3.81v1.06h-3.81zM609.90,38.14h0.95v1.06h-0.95zM609.90,39.20h0.95v1.06h-0.95zM609.90,40.26h0.95v1.06h-0.95zM615.62,33.90h4.76v1.06h-4.76zM615.62,34.96h0.95v1.06h-0.95zM615.62,36.02h0.95v1.06h-0.95zM615.62,37.08h3.81v1.06h-3.81zM615.62,38.14h0.95v1.06h-0.95zM615.62,39.20h0.95v1.06h-0.95zM615.62,40.26h0.95v1.06h-0.95zM622.29,33.90h2.86v1.06h-2.86zM621.34,34.96h0.95v1.06h-0.95zM625.15,34.96h0.95v1.06h-0.95zM621.34,36.02h0.95v1.06h-0.95zM621.34,37.08h0.95v1.06h-0.95zM621.34,38.14h0.95v1.06h-0.95zM621.34,39.20h0.95v1.06h-0.95zM625.15,39.20h0.95v1.06h-0.95zM622.29,40.26h2.86v1.06h-2.86zM632.78,33.90h0.95v1.06h-0.95zM636.59,33.90h0.95v1.06h-0.95zM632.78,34.96h1.91v1.06h-1.91zM635.64,34.96h1.91v1.06h-1.91zM632.78,36.02h0.95v1.06h-0.95zM634.69,36.02h0.95v1.06h-0.95zM636.59,36.02h0.95v1.06h-0.95zM632.78,37.08h0.95v1.06h-0.95zM634.69,37.08h0.95v1.06h-0.95zM636.59,37.08h0.95v1.06h-0.95zM632.78,38.14h0.95v1.06h-0.95zM636.59,38.14h0.95v1.06h-0.95zM632.78,39.20h0.95v1.06h-0.95zM636.59,39.20h0.95v1.06h-0.95zM632.78,40.26h0.95v1.06h-0.95zM636.59,40.26h0.95v1.06h-0.95zM639.45,36.02h2.86v1.06h-2.86zM638.50,37.08h0.95v1.06h-0.95zM642.31,37.08h0.95v1.06h-0.95zM638.50,38.14h4.76v1.06h-4.76zM638.50,39.20h0.95v1.06h-0.95zM639.45,40.26h2.86v1.06h-2.86zM645.17,36.02h2.86v1.06h-2.86zM648.03,37.08h0.95v1.06h-0.95zM645.17,38.14h3.81v1.06h-3.81zM644.22,39.20h0.95v1.06h-0.95zM648.03,39.20h0.95v1.06h-0.95zM645.17,40.26h3.81v1.06h-3.81zM650.89,36.02h2.86v1.06h-2.86zM649.94,37.08h0.95v1.06h-0.95zM650.89,38.14h2.86v1.06h-2.86zM653.75,39.20h0.95v1.06h-0.95zM649.94,40.26h3.81v1.06h-3.81zM655.66,36.02h0.95v1.06h-0.95zM659.47,36.02h0.95v1.06h-0.95zM655.66,37.08h0.95v1.06h-0.95zM659.47,37.08h0.95v1.06h-0.95zM655.66,38.14h0.95v1.06h-0.95zM659.47,38.14h0.95v1.06h-0.95zM655.66,39.20h0.95v1.06h-0.95zM658.52,39.20h1.91v1.06h-1.91zM656.61,40.26h1.91v1.06h-1.91zM659.47,40.26h0.95v1.06h-0.95zM661.38,36.02h0.95v1.06h-0.95zM663.29,36.02h1.91v1.06h-1.91zM661.38,37.08h1.91v1.06h-1.91zM665.19,37.08h0.95v1.06h-0.95zM661.38,38.14h0.95v1.06h-0.95zM661.38,39.20h0.95v1.06h-0.95zM661.38,40.26h0.95v1.06h-0.95zM668.05,36.02h2.86v1.06h-2.86zM667.10,37.08h0.95v1.06h-0.95zM670.91,37.08h0.95v1.06h-0.95zM667.10,38.14h4.76v1.06h-4.76zM667.10,39.20h0.95v1.06h-0.95zM668.05,40.26h2.86v1.06h-2.86zM672.82,36.02h1.91v1.06h-1.91zM675.68,36.02h0.95v1.06h-0.95zM672.82,37.08h0.95v1.06h-0.95zM674.73,37.08h0.95v1.06h-0.95zM676.63,37.08h0.95v1.06h-0.95zM672.82,38.14h0.95v1.06h-0.95zM674.73,38.14h0.95v1.06h-0.95zM676.63,38.14h0.95v1.06h-0.95zM672.82,39.20h0.95v1.06h-0.95zM676.63,39.20h0.95v1.06h-0.95zM672.82,40.26h0.95v1.06h-0.95zM676.63,40.26h0.95v1.06h-0.95zM679.49,36.02h2.86v1.06h-2.86zM678.54,37.08h0.95v1.06h-0.95zM682.35,37.08h0.95v1.06h-0.95zM678.54,38.14h4.76v1.06h-4.76zM678.54,39.20h0.95v1.06h-0.95zM679.49,40.26h2.86v1.06h-2.86zM684.26,36.02h0.95v1.06h-0.95zM686.17,36.02h1.91v1.06h-1.91zM684.26,37.08h1.91v1.06h-1.91zM688.07,37.08h0.95v1.06h-0.95zM684.26,38.14h0.95v1.06h-0.95zM688.07,38.14h0.95v1.06h-0.95zM684.26,39.20h0.95v1.06h-0.95zM688.07,39.20h0.95v1.06h-0.95zM684.26,40.26h0.95v1.06h-0.95zM688.07,40.26h0.95v1.06h-0.95zM690.93,33.90h0.95v1.06h-0.95zM690.93,34.96h0.95v1.06h-0.95zM689.98,36.02h2.86v1.06h-2.86zM690.93,37.08h0.95v1.06h-0.95zM690.93,38.14h0.95v1.06h-0.95zM690.93,39.20h0.95v1.06h-0.95zM693.79,39.20h0.95v1.06h-0.95zM691.89,40.26h1.91v1.06h-1.91zM696.65,39.20h1.91v1.06h-1.91zM696.65,40.26h1.91v1.06h-1.91zM702.37,39.20h1.91v1.06h-1.91zM702.37,40.26h1.91v1.06h-1.91zM708.09,39.20h1.91v1.06h-1.91zM708.09,40.26h1.91v1.06h-1.91zM609.90,47.42h3.81v1.06h-3.81zM609.90,48.48h0.95v1.06h-0.95zM613.71,48.48h0.95v1.06h-0.95zM609.90,49.54h3.81v1.06h-3.81zM609.90,50.60h0.95v1.06h-0.95zM609.90,51.66h0.95v1.06h-0.95zM617.53,45.30h1.91v1.06h-1.91zM616.57,46.36h0.95v1.06h-0.95zM619.43,46.36h0.95v1.06h-0.95zM616.57,47.42h0.95v1.06h-0.95zM615.62,48.48h2.86v1.06h-2.86zM616.57,49.54h0.95v1.06h-0.95zM616.57,50.60h0.95v1.06h-0.95zM616.57,51.66h0.95v1.06h-0.95zM622.29,46.36h1.91v1.06h-1.91zM622.29,47.42h1.91v1.06h-1.91zM622.29,49.54h1.91v1.06h-1.91zM622.29,50.60h1.91v1.06h-1.91zM628.01,45.30h2.86v1.06h-2.86zM627.06,46.36h0.95v1.06h-0.95zM630.87,46.36h0.95v1.06h-0.95zM627.06,47.42h0.95v1.06h-0.95zM629.92,47.42h1.91v1.06h-1.91zM627.06,48.48h0.95v1.06h-0.95zM628.97,48.48h0.95v1.06h-0.95zM630.87,48.48h0.95v1.06h-0.95zM627.06,49.54h1.91v1.06h-1.91zM630.87,49.54h0.95v1.06h-0.95zM627.06,50.60h0.95v1.06h-0.95zM630.87,50.60h0.95v1.06h-0.95zM628.01,51.66h2.86v1.06h-2.86zM633.73,45.30h2.86v1.06h-2.86zM632.78,46.36h0.95v1.06h-0.95zM636.59,46.36h0.95v1.06h-0.95zM632.78,47.42h0.95v1.06h-0.95zM635.64,47.42h1.91v1.06h-1.91zM632.78,48.48h0.95v1.06h-0.95zM634.69,48.48h0.95v1.06h-0.95zM636.59,48.48h0.95v1.06h-0.95zM632.78,49.54h1.91v1.06h-1.91zM636.59,49.54h0.95v1.06h-0.95zM632.78,50.60h0.95v1.06h-0.95zM636.59,50.60h0.95v1.06h-0.95zM633.73,51.66h2.86v1.06h-2.86zM639.45,45.30h2.86v1.06h-2.86zM638.50,46.36h0.95v1.06h-0.95zM642.31,46.36h0.95v1.06h-0.95zM638.50,47.42h0.95v1.06h-0.95zM641.36,47.42h1.91v1.06h-1.91zM638.50,48.48h0.95v1.06h-0.95zM640.41,48.48h0.95v1.06h-0.95zM642.31,48.48h0.95v1.06h-0.95zM638.50,49.54h1.91v1.06h-1.91zM642.31,49.54h0.95v1.06h-0.95zM638.50,50.60h0.95v1.06h-0.95zM642.31,50.60h0.95v1.06h-0.95zM639.45,51.66h2.86v1.06h-2.86zM644.22,45.30h4.76v1.06h-4.76zM647.08,46.36h0.95v1.06h-0.95zM646.13,47.42h0.95v1.06h-0.95zM647.08,48.48h0.95v1.06h-0.95zM648.03,49.54h0.95v1.06h-0.95zM644.22,50.60h0.95v1.06h-0.95zM648.03,50.60h0.95v1.06h-0.95zM645.17,51.66h2.86v1.06h-2.86zM609.90,58.82h3.81v1.06h-3.81zM609.90,59.88h0.95v1.06h-0.95zM613.71,59.88h0.95v1.06h-0.95zM609.90,60.94h3.81v1.06h-3.81zM609.90,62.00h0.95v1.06h-0.95zM609.90,63.06h0.95v1.06h-0.95zM616.57,58.82h2.86v1.06h-2.86zM615.62,59.88h0.95v1.06h-0.95zM619.43,59.88h0.95v1.06h-0.95zM615.62,60.94h0.95v1.06h-0.95zM619.43,60.94h0.95v1.06h-0.95zM615.62,62.00h0.95v1.06h-0.95zM619.43,62.00h0.95v1.06h-0.95zM616.57,63.06h2.86v1.06h-2.86zM621.34,58.82h0.95v1.06h-0.95zM625.15,58.82h0.95v1.06h-0.95zM621.34,59.88h0.95v1.06h-0.95zM625.15,59.88h0.95v1.06h-0.95zM621.34,60.94h0.95v1.06h-0.95zM623.25,60.94h0.95v1.06h-0.95zM625.15,60.94h0.95v1.06h-0.95zM621.34,62.00h0.95v1.06h-0.95zM623.25,62.00h0.95v1.06h-0.95zM625.15,62.00h0.95v1.06h-0.95zM622.29,63.06h0.95v1.06h-0.95zM624.20,63.06h0.95v1.06h-0.95zM628.01,58.82h2.86v1.06h-2.86zM627.06,59.88h0.95v1.06h-0.95zM630.87,59.88h0.95v1.06h-0.95zM627.06,60.94h4.76v1.06h-4.76zM627.06,62.00h0.95v1.06h-0.95zM628.01,63.06h2.86v1.06h-2.86zM632.78,58.82h0.95v1.06h-0.95zM634.69,58.82h1.91v1.06h-1.91zM632.78,59.88h1.91v1.06h-1.91zM636.59,59.88h0.95v1.06h-0.95zM632.78,60.94h0.95v1.06h-0.95zM632.78,62.00h0.95v1.06h-0.95zM632.78,63.06h0.95v1.06h-0.95zM646.13,56.70h1.91v1.06h-1.91zM645.17,57.76h0.95v1.06h-0.95zM648.03,57.76h0.95v1.06h-0.95zM645.17,58.82h0.95v1.06h-0.95zM644.22,59.88h2.86v1.06h-2.86zM645.17,60.94h0.95v1.06h-0.95zM645.17,62.00h0.95v1.06h-0.95zM645.17,63.06h0.95v1.06h-0.95zM650.89,58.82h2.86v1.06h-2.86zM653.75,59.88h0.95v1.06h-0.95zM650.89,60.94h3.81v1.06h-3.81zM649.94,62.00h0.95v1.06h-0.95zM653.75,62.00h0.95v1.06h-0.95zM650.89,63.06h3.81v1.06h-3.81zM656.61,58.82h2.86v1.06h-2.86zM655.66,59.88h0.95v1.06h-0.95zM655.66,60.94h0.95v1.06h-0.95zM655.66,62.00h0.95v1.06h-0.95zM659.47,62.00h0.95v1.06h-0.95zM656.61,63.06h2.86v1.06h-2.86zM662.33,56.70h0.95v1.06h-0.95zM662.33,57.76h0.95v1.06h-0.95zM661.38,58.82h2.86v1.06h-2.86zM662.33,59.88h0.95v1.06h-0.95zM662.33,60.94h0.95v1.06h-0.95zM662.33,62.00h0.95v1.06h-0.95zM665.19,62.00h0.95v1.06h-0.95zM663.29,63.06h1.91v1.06h-1.91zM668.05,58.82h2.86v1.06h-2.86zM667.10,59.88h0.95v1.06h-0.95zM670.91,59.88h0.95v1.06h-0.95zM667.10,60.94h0.95v1.06h-0.95zM670.91,60.94h0.95v1.06h-0.95zM667.10,62.00h0.95v1.06h-0.95zM670.91,62.00h0.95v1.06h-0.95zM668.05,63.06h2.86v1.06h-2.86zM672.82,58.82h0.95v1.06h-0.95zM674.73,58.82h1.91v1.06h-1.91zM672.82,59.88h1.91v1.06h-1.91zM676.63,59.88h0.95v1.06h-0.95zM672.82,60.94h0.95v1.06h-0.95zM672.82,62.00h0.95v1.06h-0.95zM672.82,63.06h0.95v1.06h-0.95zM679.49,57.76h1.91v1.06h-1.91zM679.49,58.82h1.91v1.06h-1.91zM679.49,60.94h1.91v1.06h-1.91zM679.49,62.00h1.91v1.06h-1.91zM686.17,56.70h0.95v1.06h-0.95zM685.21,57.76h1.91v1.06h-1.91zM686.17,58.82h0.95v1.06h-0.95zM686.17,59.88h0.95v1.06h-0.95zM686.17,60.94h0.95v1.06h-0.95zM686.17,62.00h0.95v1.06h-0.95zM685.21,63.06h2.86v1.06h-2.86zM690.93,62.00h1.91v1.06h-1.91zM690.93,63.06h1.91v1.06h-1.91zM696.65,56.70h2.86v1.06h-2.86zM695.70,57.76h0.95v1.06h-0.95zM699.51,57.76h0.95v1.06h-0.95zM695.70,58.82h0.95v1.06h-0.95zM698.56,58.82h1.91v1.06h-1.91zM695.70,59.88h0.95v1.06h-0.95zM697.61,59.88h0.95v1.06h-0.95zM699.51,59.88h0.95v1.06h-0.95zM695.70,60.94h1.91v1.06h-1.91zM699.51,60.94h0.95v1.06h-0.95zM695.70,62.00h0.95v1.06h-0.95zM699.51,62.00h0.95v1.06h-0.95zM696.65,63.06h2.86v1.06h-2.86zM702.37,56.70h2.86v1.06h-2.86zM701.42,57.76h0.95v1.06h-0.95zM705.23,57.76h0.95v1.06h-0.95zM701.42,58.82h0.95v1.06h-0.95zM704.28,58.82h1.91v1.06h-1.91zM701.42,59.88h0.95v1.06h-0.95zM703.33,59.88h0.95v1.06h-0.95zM705.23,59.88h0.95v1.06h-0.95zM701.42,60.94h1.91v1.06h-1.91zM705.23,60.94h0.95v1.06h-0.95zM701.42,62.00h0.95v1.06h-0.95zM705.23,62.00h0.95v1.06h-0.95zM702.37,63.06h2.86v1.06h-2.86zM708.09,56.70h2.86v1.06h-2.86zM707.14,57.76h0.95v1.06h-0.95zM710.95,57.76h0.95v1.06h-0.95zM707.14,58.82h0.95v1.06h-0.95zM710.00,58.82h1.91v1.06h-1.91zM707.14,59.88h0.95v1.06h-0.95zM709.05,59.88h0.95v1.06h-0.95zM710.95,59.88h0.95v1.06h-0.95zM707.14,60.94h1.91v1.06h-1.91zM710.95,60.94h0.95v1.06h-0.95zM707.14,62.00h0.95v1.06h-0.95zM710.95,62.00h0.95v1.06h-0.95zM708.09,63.06h2.86v1.06h-2.86z" fill="#18280a" stroke="#18280a" stroke-width="0.26"/>
<text transform="translate(612.5,92.4) rotate(-90)" font-size="4.3" font-weight="bold" fill="#34341e" stroke="#34341e" stroke-width="0.15" font-family="Liberation Sans, sans-serif">VSS</text>
<rect x="606.8000000000001" y="97.9" width="1.9" height="1.9" fill="#2c2c90"/>
<text x="607.8000000000001" y="103.0" font-size="2.8" fill="#444" text-anchor="middle" font-weight="bold" font-family="Liberation Sans, sans-serif" >1</text>
<text transform="translate(618.0999999999999,92.4) rotate(-90)" font-size="4.3" font-weight="bold" fill="#34341e" stroke="#34341e" stroke-width="0.15" font-family="Liberation Sans, sans-serif">VDD</text>
<rect x="612.4" y="97.9" width="1.9" height="1.9" fill="#a85040"/>
<text x="613.4" y="103.0" font-size="2.8" fill="#444" text-anchor="middle" font-weight="bold" font-family="Liberation Sans, sans-serif" >2</text>
<text transform="translate(623.8,92.4) rotate(-90)" font-size="4.3" font-weight="bold" fill="#34341e" stroke="#34341e" stroke-width="0.15" font-family="Liberation Sans, sans-serif">VEE</text>
<rect x="618.1" y="97.9" width="1.9" height="1.9" fill="#a85040"/>
<text x="619.1" y="103.0" font-size="2.8" fill="#444" text-anchor="middle" font-weight="bold" font-family="Liberation Sans, sans-serif" >3</text>
<text transform="translate(635.3,92.4) rotate(-90)" font-size="4.3" font-weight="bold" fill="#34341e" stroke="#34341e" stroke-width="0.15" font-family="Liberation Sans, sans-serif">RS</text>
<rect x="629.6" y="97.9" width="1.9" height="1.9" fill="#a85040"/>
<text x="630.6" y="103.0" font-size="2.8" fill="#444" text-anchor="middle" font-weight="bold" font-family="Liberation Sans, sans-serif" >4</text>
<text transform="translate(640.8,92.4) rotate(-90)" font-size="4.3" font-weight="bold" fill="#34341e" stroke="#34341e" stroke-width="0.15" font-family="Liberation Sans, sans-serif">RW</text>
<rect x="635.1" y="97.9" width="1.9" height="1.9" fill="#2c2c90"/>
<text x="636.1" y="103.0" font-size="2.8" fill="#444" text-anchor="middle" font-weight="bold" font-family="Liberation Sans, sans-serif" >5</text>
<text transform="translate(646.3,92.4) rotate(-90)" font-size="4.3" font-weight="bold" fill="#34341e" stroke="#34341e" stroke-width="0.15" font-family="Liberation Sans, sans-serif">E</text>
<rect x="640.6" y="97.9" width="1.9" height="1.9" fill="#2c2c90"/>
<text x="641.6" y="103.0" font-size="2.8" fill="#444" text-anchor="middle" font-weight="bold" font-family="Liberation Sans, sans-serif" >6</text>
<text transform="translate(657.8,92.4) rotate(-90)" font-size="4.3" font-weight="bold" fill="#34341e" stroke="#34341e" stroke-width="0.15" font-family="Liberation Sans, sans-serif">D0</text>
<rect x="652.1" y="97.9" width="1.9" height="1.9" fill="#8a8a90"/>
<text x="653.1" y="103.0" font-size="2.8" fill="#444" text-anchor="middle" font-weight="bold" font-family="Liberation Sans, sans-serif" >7</text>
<text transform="translate(663.5,92.4) rotate(-90)" font-size="4.3" font-weight="bold" fill="#34341e" stroke="#34341e" stroke-width="0.15" font-family="Liberation Sans, sans-serif">D1</text>
<rect x="657.8000000000001" y="97.9" width="1.9" height="1.9" fill="#a85040"/>
<text x="658.8000000000001" y="103.0" font-size="2.8" fill="#444" text-anchor="middle" font-weight="bold" font-family="Liberation Sans, sans-serif" >8</text>
<text transform="translate(669.0999999999999,92.4) rotate(-90)" font-size="4.3" font-weight="bold" fill="#34341e" stroke="#34341e" stroke-width="0.15" font-family="Liberation Sans, sans-serif">D2</text>
<rect x="663.4" y="97.9" width="1.9" height="1.9" fill="#a85040"/>
<text x="664.4" y="103.0" font-size="2.8" fill="#444" text-anchor="middle" font-weight="bold" font-family="Liberation Sans, sans-serif" >9</text>
<text transform="translate(674.8,92.4) rotate(-90)" font-size="4.3" font-weight="bold" fill="#34341e" stroke="#34341e" stroke-width="0.15" font-family="Liberation Sans, sans-serif">D3</text>
<rect x="669.1" y="97.9" width="1.9" height="1.9" fill="#a85040"/>
<text x="670.1" y="103.0" font-size="2.8" fill="#444" text-anchor="middle" font-weight="bold" font-family="Liberation Sans, sans-serif" >10</text>
<text transform="translate(680.5,92.4) rotate(-90)" font-size="4.3" font-weight="bold" fill="#34341e" stroke="#34341e" stroke-width="0.15" font-family="Liberation Sans, sans-serif">D4</text>
<rect x="674.8000000000001" y="97.9" width="1.9" height="1.9" fill="#2c2c90"/>
<text x="675.8000000000001" y="103.0" font-size="2.8" fill="#444" text-anchor="middle" font-weight="bold" font-family="Liberation Sans, sans-serif" >11</text>
<text transform="translate(686.3,92.4) rotate(-90)" font-size="4.3" font-weight="bold" fill="#34341e" stroke="#34341e" stroke-width="0.15" font-family="Liberation Sans, sans-serif">D5</text>
<rect x="680.6" y="97.9" width="1.9" height="1.9" fill="#2c2c90"/>
<text x="681.6" y="103.0" font-size="2.8" fill="#444" text-anchor="middle" font-weight="bold" font-family="Liberation Sans, sans-serif" >12</text>
<text transform="translate(692.0,92.4) rotate(-90)" font-size="4.3" font-weight="bold" fill="#34341e" stroke="#34341e" stroke-width="0.15" font-family="Liberation Sans, sans-serif">D6</text>
<rect x="686.3000000000001" y="97.9" width="1.9" height="1.9" fill="#b060a0"/>
<text x="687.3000000000001" y="103.0" font-size="2.8" fill="#444" text-anchor="middle" font-weight="bold" font-family="Liberation Sans, sans-serif" >13</text>
<text transform="translate(697.6999999999999,92.4) rotate(-90)" font-size="4.3" font-weight="bold" fill="#34341e" stroke="#34341e" stroke-width="0.15" font-family="Liberation Sans, sans-serif">D7</text>
<rect x="692.0" y="97.9" width="1.9" height="1.9" fill="#2c2c90"/>
<text x="693.0" y="103.0" font-size="2.8" fill="#444" text-anchor="middle" font-weight="bold" font-family="Liberation Sans, sans-serif" >14</text>
<rect x="393.2" y="260.5" width="52.4" height="44.4" fill="#d8d0b8" stroke="#a08868" stroke-width="1.0" />
<rect x="408.0" y="268.4" width="32.4" height="28.6" fill="#080808" stroke="#1a1a1a" stroke-width="0.6" />
<text x="396.8" y="267.4" font-size="4.8" fill="#a89020" text-anchor="start" font-weight="bold" font-family="Liberation Sans, sans-serif" >A</text>
<text x="396.8" y="278.7" font-size="4.8" fill="#504850" text-anchor="start" font-weight="bold" font-family="Liberation Sans, sans-serif" >B</text>
<line x1="383.0" y1="288.4" x2="393.2" y2="288.4" stroke="#4a4c4c" stroke-width="1.0" />
<text x="396.8" y="290.09999999999997" font-size="4.8" fill="#c8b0a0" text-anchor="start" font-weight="bold" font-family="Liberation Sans, sans-serif" >C</text>
<line x1="383.0" y1="299.9" x2="393.2" y2="299.9" stroke="#4a4c4c" stroke-width="1.0" />
<text x="396.8" y="301.59999999999997" font-size="4.8" fill="#a89868" text-anchor="start" font-weight="bold" font-family="Liberation Sans, sans-serif" >D</text>
<circle cx="388.1" cy="262.6" r="1.15" fill="#30308c"/>
<circle cx="388.1" cy="273.8" r="1.15" fill="#30308c"/>
<rect x="408.2" y="276.9" width="32.0" height="6.2" fill="#0c1c58"/>
<line x1="408.4" y1="280.0" x2="440.0" y2="280.0" stroke="#2038a0" stroke-width="1.1" />
<polyline points="408.6,274.5 409.4,274.5 409.4,270.1 411.7,270.1 411.7,274.5 414.0,274.5 414.0,270.1 416.3,270.1 416.3,274.5 418.6,274.5 418.6,270.1 420.9,270.1 420.9,274.5 423.2,274.5 423.2,270.1 425.5,270.1 425.5,274.5 427.8,274.5 427.8,270.1 430.1,270.1 430.1,274.5 432.4,274.5 432.4,270.1 434.7,270.1 434.7,274.5 437.0,274.5 437.0,270.1 439.3,270.1 439.3,274.5 440.0,274.5" stroke="#e8e8a0" stroke-width="1.1" fill="none" stroke-linejoin="miter" />
<polyline points="408.6,288.40000000000003 409.4,288.40000000000003 409.4,285.2 411.7,285.2 411.7,288.40000000000003 414.0,288.40000000000003 414.0,285.2 416.3,285.2 416.3,288.40000000000003 418.6,288.40000000000003 418.6,285.2 420.9,285.2 420.9,288.40000000000003 423.2,288.40000000000003 423.2,285.2 425.5,285.2 425.5,288.40000000000003 427.8,288.40000000000003 427.8,285.2 430.1,285.2 430.1,288.40000000000003 432.4,288.40000000000003 432.4,285.2 434.7,285.2 434.7,288.40000000000003 437.0,288.40000000000003 437.0,285.2 439.3,285.2 439.3,288.40000000000003 440.0,288.40000000000003" stroke="#c84830" stroke-width="1.1" fill="none" stroke-linejoin="miter" />
<polyline points="408.6,295.1 409.0,295.1 409.0,292.1 410.6,292.1 410.6,295.1 412.2,295.1 412.2,292.1 413.8,292.1 413.8,295.1 415.4,295.1 415.4,292.1 417.0,292.1 417.0,295.1 418.6,295.1 418.6,292.1 420.2,292.1 420.2,295.1 421.8,295.1 421.8,292.1 423.4,292.1 423.4,295.1 425.0,295.1 425.0,292.1 426.6,292.1 426.6,295.1 428.2,295.1 428.2,292.1 429.8,292.1 429.8,295.1 431.4,295.1 431.4,292.1 433.0,292.1 433.0,295.1 434.6,295.1 434.6,292.1 436.2,292.1 436.2,295.1 437.8,295.1 437.8,292.1 439.4,292.1 439.4,295.1 440.0,295.1" stroke="#38c858" stroke-width="1.1" fill="none" stroke-linejoin="miter" />
</g>
</svg>
</body></html>
